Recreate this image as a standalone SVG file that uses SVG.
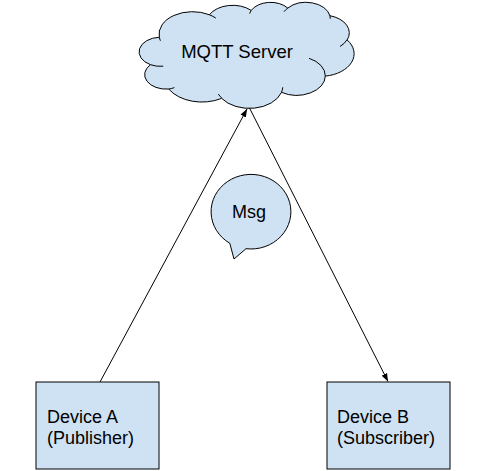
<svg xmlns="http://www.w3.org/2000/svg" width="485" height="471" viewBox="0 0 485 471">
<defs>
<style>
.shape{fill:#cfe2f3;stroke:#000;stroke-width:1}
.inner{fill:none;stroke:#000;stroke-width:1}
.lbl{font-family:"Liberation Sans",Arial,sans-serif;font-size:18px;fill:#000}
.conn{fill:none;stroke:#000;stroke-width:1}
</style>
<marker id="arr" markerUnits="userSpaceOnUse" markerWidth="9" markerHeight="7" refX="8" refY="3.5" orient="auto">
<path d="M0,0.5 L8,3.5 L0,6.5 Z" fill="#000"/>
</marker>
</defs>
<rect width="485" height="471" fill="#fff"/>
<g id="server">
<g transform="translate(140,2) scale(0.0049537,0.0024537)">
<path class="shape" vector-effect="non-scaling-stroke" d="M3900,14370 A6753,9190 0 0 1 14004.7,5201.9 A5333,7267 0 0 1 22457.5,3432.7 A4365,5945 0 0 1 29835.3,2482.1 A4857,6595 0 0 1 38320.8,5576.8 A5333,7273 0 0 1 41821.3,15460.5 A6775,9220 0 0 1 37406.5,30202.1 A5785,7867 0 0 1 28559,36813.1 A6752,9215 0 0 1 16484.5,39266.7 A7720,10543 0 0 1 5806.4,35473.4 A4360,5918 0 0 1 2114.9,25552 A4345,5945 0 0 1 3900,14370 Z"/>
<path class="inner" vector-effect="non-scaling-stroke" d="M4693,26177 A4345,5945 0 0 1 2114.9,25552 M6928,34899 A4360,5918 0 0 1 5806.4,35473.4 M16478,39090 A6752,9215 0 0 1 15815.2,37522.9 M28827,34751 A6752,9215 0 0 1 28559,36813.1 M34129,22954 A5785,7867 0 0 1 37406.5,30202.1 M41798,15354 A5333,7273 0 0 1 40372.3,18137.9 M38324,5426 A4857,6595 0 0 1 38397.2,6840.4 M29078,3952 A4857,6595 0 0 1 29835.3,2482.1 M22141,4720 A4365,5945 0 0 1 22457.5,3432.7 M14000,5192 A6753,9190 0 0 1 15306.9,6553.2 M4127,15789 A6753,9190 0 0 1 3900,14370"/>
</g>
<text class="lbl" x="237" y="58" text-anchor="middle" style="font-size:18.5px">MQTT Server</text>
</g>
<g id="connectors">
<line class="conn" x1="100" y1="382" x2="247" y2="109" marker-end="url(#arr)"/>
<line class="conn" x1="249.5" y1="108" x2="388" y2="381.5" marker-end="url(#arr)"/>
</g>
<g id="msg">
<path class="shape" d="M229.8,243.3 A39.9,37.3 0 1 1 246,248.7 L234,259 Z"/>
<text class="lbl" x="249" y="218" text-anchor="middle">Msg</text>
</g>
<g id="deviceA">
<rect class="shape" x="36" y="382" width="123" height="87"/>
<text class="lbl" x="47" y="423">Device A</text>
<text class="lbl" x="47" y="444">(Publisher)</text>
</g>
<g id="deviceB">
<rect class="shape" x="327" y="382" width="123" height="87"/>
<text class="lbl" x="337" y="423">Device B</text>
<text class="lbl" x="337" y="444">(Subscriber)</text>
</g>
</svg>
